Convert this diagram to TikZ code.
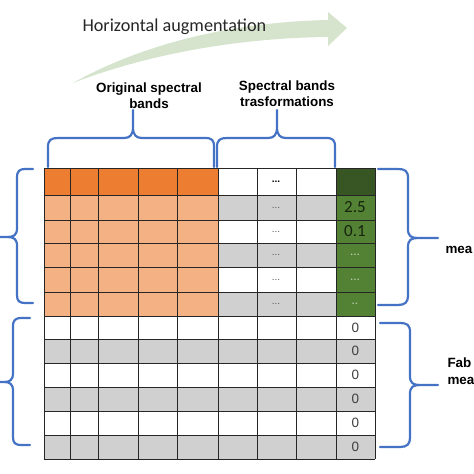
\documentclass[tikz,border=0pt]{standalone}
\usepackage{fontspec}
\setmainfont{Liberation Sans}
\newfontfamily\calibri{Carlito}
\definecolor{dorange}{HTML}{ED7D31}
\definecolor{lorange}{HTML}{F4B183}
\definecolor{dgreen}{HTML}{375623}
\definecolor{mgreen}{HTML}{548235}
\definecolor{cgray}{HTML}{D0D0D0}
\definecolor{bblue}{HTML}{4472C4}
\definecolor{agreen}{HTML}{D6E4CE}
\definecolor{numtext}{HTML}{16240E}
\definecolor{dotgreen}{HTML}{B7CCA8}
\begin{document}
\begin{tikzpicture}[x=1pt,y=-1pt,
  gridline/.style={draw=black!85, line width=0.7pt},
  bracestyle/.style={draw=bblue, line width=2.2pt, line join=round, line cap=round},
  header/.style={font=\bfseries\fontsize{13.4}{16}\selectfont, align=center, text=black},
  dots/.style={font=\fontsize{10}{11}\selectfont, text=black!65},
  num/.style={font=\calibri\fontsize{17}{18}\selectfont, text=numtext},
  gdots/.style={font=\calibri\fontsize{13}{14}\selectfont, text=dotgreen},
  zero/.style={font=\fontsize{13.5}{14}\selectfont, text=black!75},
  side/.style={font=\bfseries\fontsize{13.4}{16.5}\selectfont, anchor=west, align=left, text=black}]
\useasboundingbox (0,0) rectangle (474,474);

% curved arrow
\fill[agreen] (73,83) .. controls (140,45) and (230,22) .. (328,20) -- (328,12) -- (347,28) -- (328,46) -- (328,37) .. controls (230,38) and (140,57) .. (73,83) -- cycle;
\node[font=\calibri\fontsize{18.2}{21}\selectfont, text=black!85, anchor=west] (title) at (79,27) {Horizontal augmentation};

% headers
\node[header] (orig) at (149,96) {Original spectral\\bands};
\node[header] (trans) at (287,94) {Spectral bands\\trasformations};

% cell fills
\fill[dorange] (44,168) rectangle (218,195);
\fill[lorange] (44,195) rectangle (218,316);
\fill[dgreen] (336,168) rectangle (375,195);
\fill[mgreen] (336,195) rectangle (375,316);
\foreach \a/\b in {195/220,243/267,292/316} \fill[cgray] (218,\a) rectangle (336,\b);
\foreach \a/\b in {339/363,387/411,435/459} \fill[cgray] (44,\a) rectangle (375,\b);

% grid
\foreach \x in {44,70,98,138,177,218,257,296,336,375} \draw[gridline] (\x,168) -- (\x,459);
\foreach \y in {168,195,220,243,267,292,316,339,363,387,411,435,459} \draw[gridline] (44,\y) -- (375,\y);

% cell texts
\node[dots, text=black, font=\bfseries\fontsize{10}{11}\selectfont] (dot1) at (276,181.5) {...};
\foreach \i/\y in {2/207.5,3/231.5,4/255,5/279.5,6/304} \node[dots] (dot\i) at (276,\y) {...};
\node[num] (v1) at (355,207.5) {2.5};
\node[num] (v2) at (355,231.5) {0.1};
\node[gdots] (v3) at (355,255) {...};
\node[gdots] (v4) at (355,279.5) {...};
\node[gdots] (v5) at (355,304) {..};
\foreach \i/\y in {1/327.5,2/351,3/375,4/399,5/423,6/447} \node[zero] (z\i) at (355.5,\y) {0};

% top braces
\draw[bracestyle] (48,167) -- (48,147) .. controls (48,140) and (51,138) .. (58,138) -- (124,138) .. controls (130,138) and (133,135) .. (133,127) -- (133,110) -- (133,127) .. controls (133,135) and (136,138) .. (142,138) -- (205,138) .. controls (212,138) and (214,140) .. (214,147) -- (214,167);
\draw[bracestyle] (217,167) -- (217,147) .. controls (217,140) and (220,138) .. (227,138) -- (268,138) .. controls (274,138) and (277,135) .. (277,127) -- (277,110) -- (277,127) .. controls (277,135) and (280,138) .. (286,138) -- (326,138) .. controls (333,138) and (335,140) .. (335,147) -- (335,167);

% left braces
\draw[bracestyle] (33,169) -- (26,169) .. controls (19,169) and (17,171) .. (17,178) -- (17,228) .. controls (17,235) and (14,237) .. (7,237) -- (-3,237) -- (7,237) .. controls (14,237) and (17,239) .. (17,246) -- (17,295) .. controls (17,301) and (19,303) .. (26,303) -- (33,303);
\draw[bracestyle] (30,318) -- (22,318) .. controls (15,318) and (13,320) .. (13,327) -- (13,373) .. controls (13,380) and (10,382) .. (4,382) -- (-3,382) -- (4,382) .. controls (10,382) and (13,384) .. (13,391) -- (13,437) .. controls (13,443) and (15,445) .. (22,445) -- (30,445);

% right braces
\draw[bracestyle] (378,169) -- (398,169) .. controls (405,169) and (408,171) .. (408,178) -- (408,229) .. controls (408,236) and (411,238) .. (418,238) -- (438,238) -- (418,238) .. controls (411,238) and (408,240) .. (408,247) -- (408,296) .. controls (408,302) and (405,305) .. (398,305) -- (378,305);
\draw[bracestyle] (380,323) -- (400,323) .. controls (407,323) and (410,325) .. (410,332) -- (410,376) .. controls (410,383) and (413,385) .. (420,385) -- (438,385) -- (420,385) .. controls (413,385) and (410,387) .. (410,394) -- (410,438) .. controls (410,444) and (407,447) .. (400,447) -- (380,447);

% side labels
\node[side] (m1) at (442,250) {mea};
\node[side] (fab) at (444,371) {Fab\\mea};
\end{tikzpicture}
\end{document}
